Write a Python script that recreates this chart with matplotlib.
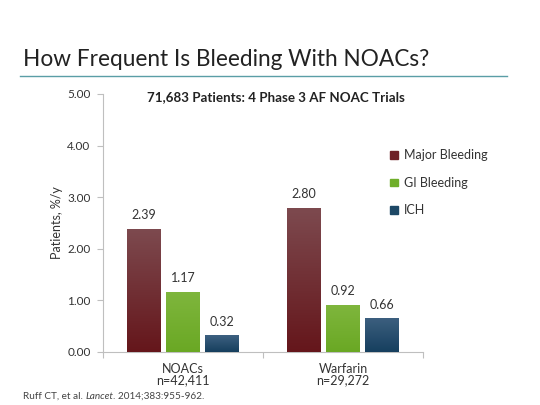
import numpy as np
import matplotlib.pyplot as plt
from matplotlib.colors import LinearSegmentedColormap
from matplotlib.lines import Line2D
from matplotlib.patches import Rectangle

groups = ["NOACs\nn=42,411", "Warfarin\nn=29,272"]
series = ["Major Bleeding", "GI Bleeding", "ICH"]
major = [2.39, 2.80]
gi = [1.17, 0.92]
ich = [0.32, 0.66]
values = [major, gi, ich]
# (top colour, bottom colour) for the gradient fill
colors = [("#7d4a4f", "#65161b"), ("#7fb63d", "#6aa824"), ("#3d6080", "#163f5e")]
legend_colors = ["#6e2027", "#6fae2a", "#1d4866"]

plt.rcParams['font.family'] = ['Lato', 'DejaVu Sans']

fig = plt.figure(figsize=(5.4, 4.05), dpi=100)
ax = fig.add_axes([103/540, 1-352/405, 320/540, 258/405])

x = np.arange(len(groups))
width = 0.21
offsets = [-0.243, 0, 0.243]

for vals, off, (ctop, cbot) in zip(values, offsets, colors):
    bars = ax.bar(x + off, vals, width, color=cbot, zorder=2)
    cmap = LinearSegmentedColormap.from_list("g", [cbot, ctop])
    for b, v in zip(bars, vals):
        bx, by = b.get_x(), b.get_y()
        bw, bh = b.get_width(), b.get_height()
        grad = np.linspace(0, 1, 100).reshape(-1, 1)
        im = ax.imshow(grad, cmap=cmap, aspect='auto', origin='lower',
                       extent=[bx, bx + bw, by, by + bh], zorder=3)
        im.set_clip_path(b)
        ax.text(bx + bw/2, v + 0.14, f"{v:.2f}", ha='center', va='bottom',
                fontsize=9, color='#333333')

ax.set_xlim(-0.5, 1.5)
ax.set_ylim(0, 5)
ax.set_yticks(np.arange(0, 5.01, 1))
ax.set_yticklabels([f"{t:.2f}" for t in np.arange(0, 5.01, 1)], fontsize=8.5, color='#333333')
ax.set_xticks([-0.5, 0.5, 1.5])
ax.set_xticklabels([])
ax.set_xticks(x, minor=True)
ax.set_xticklabels(groups, minor=True, fontsize=9, color='#333333', linespacing=0.95)
ax.tick_params(axis='x', which='minor', length=0, pad=8)
ax.tick_params(axis='x', which='major', length=4, color='#bfbfbf', direction='out')
ax.tick_params(axis='y', length=4, color='#bfbfbf', pad=5)
for s in ['top', 'right']:
    ax.spines[s].set_visible(False)
for s in ['left', 'bottom']:
    ax.spines[s].set_color('#bfbfbf')
    ax.spines[s].set_linewidth(0.8)
ax.set_ylabel("Patients, %/y", fontsize=9, color='#333333', labelpad=3)
ax.patch.set_alpha(0)

handles = [Rectangle((0, 0), 1, 1, color=c) for c in legend_colors]
fig.legend(handles, series, loc='upper left', bbox_to_anchor=(379/540, 1-138/405),
           frameon=False, fontsize=9, handlelength=0.6, handleheight=0.6,
           handletextpad=0.5, labelspacing=1.25, labelcolor='#333333')

fig.text(23/540, 1-60/405, "How Frequent Is Bleeding With NOACs?", fontsize=16.3,
         color='#222222', va='center', ha='left')
fig.add_artist(Line2D([20/540, 507/540], [1-76/405, 1-76/405], color='#5a9ea6', lw=1))
fig.text(276/540, 1-97/405, "71,683 Patients: 4 Phase 3 AF NOAC Trials", fontsize=9.6,
         fontweight='bold', color='#222222', ha='center', va='center')

# footnote with italic journal name, pieces placed one after another
fig.canvas.draw()
renderer = fig.canvas.get_renderer()
xpos = 23
for part, style in [("Ruff CT, et al.\u00a0", 'normal'), ("Lancet", 'italic'),
                    (". 2014;383:955-962.", 'normal')]:
    t = fig.text(xpos/540, 1-399/405, part, fontsize=7.2, style=style,
                 color='#444444', va='baseline')
    xpos = t.get_window_extent(renderer).x1

fig.savefig("out.png", dpi=100)
